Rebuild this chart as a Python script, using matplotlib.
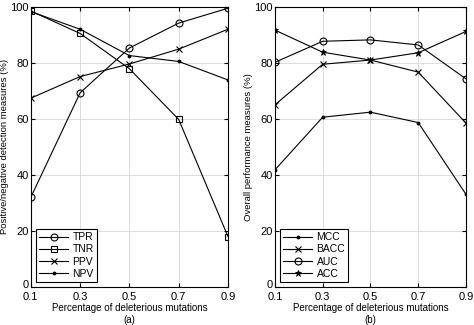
import matplotlib.pyplot as plt
import matplotlib.transforms as mtransforms
import numpy as np

plt.rcParams['font.family'] = ['Liberation Sans', 'DejaVu Sans']

# fraction of deleterious mutations
x = [0.1, 0.3, 0.5, 0.7, 0.9]

# panel (a)
tpr = [32.0, 69.3, 85.3, 94.2, 99.5]
tnr = [98.5, 90.5, 77.9, 59.8, 18.0]
ppv = [67.4, 75.1, 79.6, 84.9, 92.0]
npv = [98.3, 92.0, 82.6, 80.5, 73.9]

# panel (b)
mcc = [41.8, 60.6, 62.4, 58.7, 33.1]
bacc = [65.0, 79.5, 81.0, 76.7, 58.5]
auc = [80.2, 87.7, 88.2, 86.4, 74.3]
acc = [91.7, 83.8, 81.0, 83.6, 91.2]

xticks = [0.1, 0.3, 0.5, 0.7, 0.9]
yticks = [0, 20, 40, 60, 80, 100]

fig = plt.figure(figsize=(4.74, 3.25), dpi=100)
ax1 = fig.add_axes([0.065, 0.117, 0.416, 0.862])
ax2 = fig.add_axes([0.580, 0.117, 0.403, 0.862])

lw = 0.8
ax1.plot(x, tpr, color='k', lw=lw, marker='o', ms=5, mfc='none', mew=0.8, label='TPR')
ax1.plot(x, tnr, color='k', lw=lw, marker='s', ms=5, mfc='none', mew=0.8, label='TNR')
ax1.plot(x, ppv, color='k', lw=lw, marker='x', ms=4, mew=0.8, label='PPV')
ax1.plot(x, npv, color='k', lw=lw, marker='.', ms=3.5, label='NPV')

ax2.plot(x, mcc, color='k', lw=lw, marker='.', ms=3.5, label='MCC')
ax2.plot(x, bacc, color='k', lw=lw, marker='x', ms=4, mew=0.8, label='BACC')
ax2.plot(x, auc, color='k', lw=lw, marker='o', ms=5, mfc='none', mew=0.8, label='AUC')
ax2.plot(x, acc, color='k', lw=lw, marker='*', ms=5, mew=0.6, label='ACC')

for ax, ylab, tag in [(ax1, 'Positive/negative detection measures (%)', '(a)'),
                      (ax2, 'Overall performance measures (%)', '(b)')]:
    ax.set_xlim(0.1, 0.9)
    ax.set_ylim(0, 100)
    ax.set_xticks(xticks)
    ax.set_xticklabels(['0.1', '0.3', '0.5', '0.7', '0.9'])
    ax.set_yticks(yticks)
    ax.tick_params(direction='in', labelsize=8, length=3, top=True, right=True)
    ax.tick_params(axis='x', pad=3.5)
    ax.tick_params(axis='y', pad=1.5)
    ax.grid(True, color='#d8d8d8', lw=0.6)
    ax.set_axisbelow(True)
    for s in ax.spines.values():
        s.set_linewidth(0.8)
    # lift the "0" label a little so it clears the first x label
    lab0 = ax.get_yticklabels()[0]
    lab0.set_transform(lab0.get_transform() +
                       mtransforms.ScaledTranslation(0, 2.5 / 72, fig.dpi_scale_trans))
    ax.set_ylabel(ylab, fontsize=6.8, labelpad=1)
    ax.set_xlabel('Percentage of deleterious mutations' + '\n' + tag, fontsize=7, labelpad=0.5,
                  linespacing=1.35)
    leg = ax.legend(loc='lower left', fontsize=7.5, frameon=True, fancybox=False,
                    handlelength=2.8, borderpad=0.3, labelspacing=0.2, handletextpad=0.4,
                    borderaxespad=0.5)
    leg.get_frame().set_edgecolor('k')
    leg.get_frame().set_linewidth(0.8)
    leg.get_frame().set_alpha(1)

fig.savefig('out.png', dpi=100)
